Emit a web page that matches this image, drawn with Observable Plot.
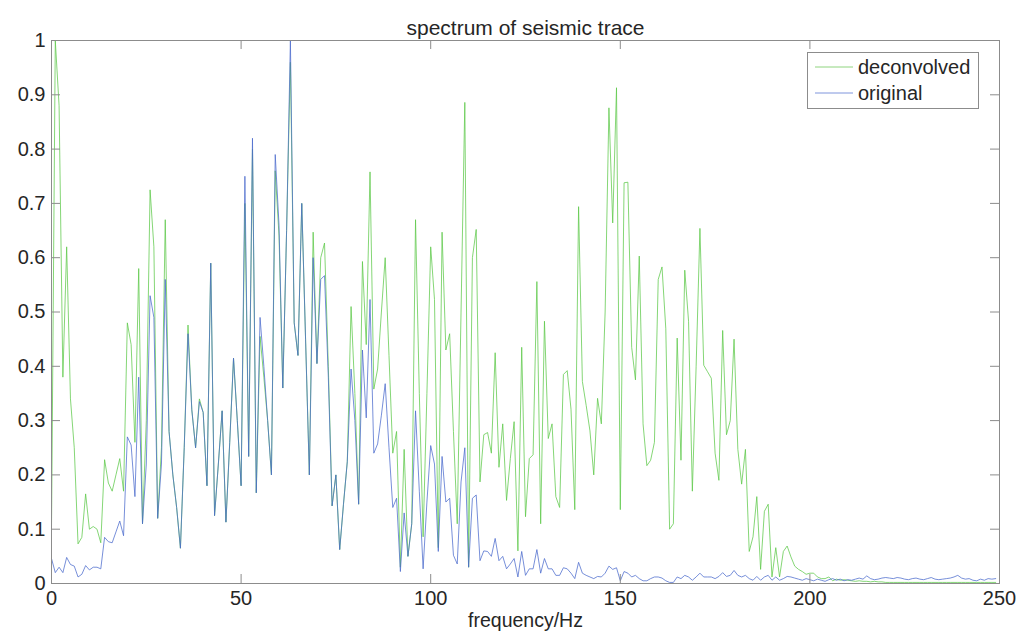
<!DOCTYPE html>
<html><head><meta charset="utf-8">
<script src="https://cdn.jsdelivr.net/npm/d3@7"></script>
<script src="https://cdn.jsdelivr.net/npm/@observablehq/plot@0.6"></script>
<style>
body{margin:0;background:#fff;}
#wrap{position:relative;width:1024px;height:640px;font-family:"Liberation Sans",Arial,sans-serif;}
#legend{position:absolute;left:807px;top:52px;width:172px;height:57px;box-sizing:border-box;border:1px solid #8c8c8c;background:#fff;}
.row{position:absolute;left:0;height:24px;width:100%;}
.sw{position:absolute;left:7px;top:11px;}
.lbl{position:absolute;left:50px;top:1px;font-size:20px;color:#262626;line-height:22px;white-space:nowrap;}
</style></head>
<body><div id="wrap"><div id="legend"></div></div>
<script>
const title = "spectrum of seismic trace";
const xLabel = "frequency/Hz";
const seriesNames = ["deconvolved", "original"];
const xTicks = [0, 50, 100, 150, 200, 250];
const yTicks = [0, 0.1, 0.2, 0.3, 0.4, 0.5, 0.6, 0.7, 0.8, 0.9, 1];

// amplitude spectra, one value per 1 Hz bin starting at 0 Hz
const deconvolved = [
  0.10,1.00,0.88,0.38,0.62,0.34,0.25,0.073,0.085,0.165,
  0.10,0.105,0.10,0.075,0.228,0.185,0.17,0.20,0.23,0.17,
  0.48,0.44,0.26,0.58,0.11,0.30,0.725,0.62,0.12,0.25,
  0.67,0.28,0.20,0.14,0.065,0.25,0.476,0.32,0.25,0.34,
  0.315,0.18,0.59,0.125,0.22,0.318,0.113,0.26,0.415,0.30,
  0.18,0.70,0.234,0.80,0.167,0.455,0.38,0.30,0.20,0.76,
  0.64,0.36,0.65,0.96,0.48,0.42,0.70,0.45,0.20,0.647,
  0.405,0.60,0.627,0.40,0.143,0.20,0.0625,0.146,0.224,0.51,
  0.35,0.146,0.593,0.44,0.758,0.358,0.395,0.50,0.60,0.42,
  0.24,0.28,0.03,0.247,0.05,0.11,0.67,0.35,0.086,0.35,
  0.62,0.523,0.066,0.647,0.43,0.46,0.28,0.11,0.50,0.886,
  0.03,0.60,0.652,0.187,0.274,0.278,0.24,0.425,0.214,0.294,
  0.153,0.23,0.298,0.06,0.435,0.123,0.23,0.237,0.556,0.11,
  0.483,0.267,0.294,0.16,0.14,0.385,0.392,0.321,0.136,0.694,
  0.372,0.328,0.281,0.20,0.341,0.294,0.50,0.876,0.664,0.913,
  0.136,0.738,0.739,0.435,0.375,0.603,0.294,0.217,0.227,0.26,
  0.56,0.583,0.469,0.10,0.11,0.452,0.227,0.577,0.483,0.17,
  0.40,0.654,0.402,0.39,0.378,0.24,0.19,0.466,0.274,0.30,
  0.45,0.247,0.183,0.247,0.059,0.086,0.16,0.026,0.133,0.146,
  0.012,0.066,0.012,0.059,0.069,0.049,0.032,0.026,0.022,0.017,
  0.019,0.019,0.012,0.009,0.009,0.012,0.005,0.008,0.006,0.007,
  0.006,0.005,0.004,0.005,0.004,0.004,0.003,0.004,0.003,0.003,
  0.002,0.002,0.002,0.002,0.002,0.002,0.002,0.002,0.002,0.002,
  0.002,0.002,0.002,0.002,0.002,0.002,0.002,0.002,0.002,0.002,
  0.002,0.002,0.002,0.002,0.002,0.002,0.002,0.002,0.002,0.002
];
const original = [
  0.046,0.02,0.03,0.02,0.048,0.035,0.032,0.012,0.017,0.033,
  0.025,0.03,0.03,0.027,0.085,0.077,0.075,0.095,0.115,0.088,
  0.27,0.255,0.16,0.38,0.11,0.22,0.53,0.49,0.12,0.22,
  0.56,0.28,0.20,0.14,0.065,0.25,0.46,0.32,0.25,0.335,
  0.315,0.18,0.59,0.125,0.22,0.318,0.113,0.26,0.415,0.30,
  0.18,0.75,0.234,0.82,0.167,0.49,0.40,0.30,0.20,0.79,
  0.66,0.36,0.65,1.00,0.48,0.42,0.70,0.45,0.20,0.60,
  0.405,0.56,0.567,0.38,0.143,0.20,0.0625,0.146,0.224,0.395,
  0.30,0.146,0.43,0.305,0.523,0.24,0.257,0.31,0.368,0.25,
  0.14,0.157,0.022,0.13,0.05,0.11,0.318,0.17,0.027,0.15,
  0.254,0.22,0.059,0.234,0.15,0.157,0.052,0.036,0.187,0.25,
  0.03,0.157,0.163,0.042,0.06,0.059,0.05,0.083,0.042,0.05,
  0.027,0.036,0.046,0.012,0.059,0.015,0.027,0.027,0.0625,0.019,
  0.046,0.027,0.027,0.015,0.015,0.029,0.027,0.019,0.009,0.039,
  0.019,0.015,0.012,0.009,0.013,0.012,0.019,0.032,0.026,0.029,
  0.005,0.022,0.019,0.012,0.015,0.009,0.005,0.005,0.009,0.012,
  0.012,0.01,0.005,0.002,0.002,0.012,0.009,0.015,0.012,0.006,
  0.012,0.019,0.012,0.012,0.012,0.009,0.013,0.02,0.013,0.015,
  0.024,0.015,0.012,0.015,0.009,0.006,0.013,0.006,0.012,0.015,
  0.006,0.012,0.006,0.009,0.013,0.012,0.01,0.008,0.006,0.009,
  0.007,0.005,0.008,0.006,0.004,0.007,0.009,0.006,0.008,0.005,
  0.007,0.006,0.008,0.01,0.008,0.014,0.009,0.007,0.008,0.01,
  0.011,0.01,0.009,0.011,0.01,0.008,0.007,0.009,0.01,0.008,
  0.007,0.009,0.011,0.008,0.007,0.008,0.009,0.01,0.012,0.015,
  0.01,0.008,0.009,0.006,0.005,0.008,0.006,0.009,0.008,0.009
];
const freqStep = 1; // Hz per bin
const freq = deconvolved.map((_, i) => i * freqStep);

const GREEN = "#5cc848";
const BLUE = "#4a6acc";
const SWATCH = ["#8fd47f", "#7f95dc"];
const AXIS = "#8c8c8c";
const TEXT = "#262626";
const FONT = "'Liberation Sans', Arial, Helvetica, sans-serif";

const W = 1024, H = 640, mL = 51, mR = 25, mT = 40, mB = 57;
const innerW = W - mL - mR, innerH = H - mT - mB, tickLen = 9;

const dData = deconvolved.map((v, i) => ({f: freq[i], v}));
const oData = original.map((v, i) => ({f: freq[i], v}));

const chart = Plot.plot({
  width: W, height: H,
  marginLeft: mL, marginRight: mR, marginTop: mT, marginBottom: mB,
  style: {fontFamily: FONT, fontSize: "20px", color: TEXT, background: "#fff", overflow: "visible"},
  x: {domain: [0, 250], label: null},
  y: {domain: [0, 1], label: null},
  marks: [
    Plot.line(dData, {x: "f", y: "v", stroke: GREEN, strokeWidth: 0.75}),
    Plot.line(oData, {x: "f", y: "v", stroke: BLUE, strokeWidth: 0.75}),
    Plot.ruleX(xTicks, {x: d => d, insetTop: innerH - tickLen, stroke: AXIS}),
    Plot.ruleX(xTicks, {x: d => d, insetBottom: innerH - tickLen, stroke: AXIS}),
    Plot.ruleY(yTicks, {y: d => d, insetRight: innerW - tickLen, stroke: AXIS}),
    Plot.ruleY(yTicks, {y: d => d, insetLeft: innerW - tickLen, stroke: AXIS}),
    Plot.frame({stroke: AXIS}),
    Plot.axisX(xTicks, {tickSize: 0, tickPadding: 7, fontSize: 20, label: null, tickFormat: d => String(d)}),
    Plot.axisY(yTicks, {tickSize: 0, tickPadding: 6, fontSize: 20, label: null, tickFormat: d => String(d)}),
    Plot.text([title], {frameAnchor: "top", dy: -20, fontSize: 21, fill: TEXT}),
    Plot.text([xLabel], {frameAnchor: "bottom", dy: 43, fontSize: 19.5, fill: TEXT})
  ]
});
const wrap = document.getElementById("wrap");
wrap.insertBefore(chart, wrap.firstChild);

const legend = document.getElementById("legend");
SWATCH.forEach((c, i) => {
  const row = document.createElement("div");
  row.className = "row";
  row.style.top = (2 + i * 26) + "px";
  row.innerHTML = `<svg class="sw" width="38" height="2"><line x1="0" x2="38" y1="1" y2="1" stroke="${c}" stroke-width="1"/></svg><div class="lbl">${seriesNames[i]}</div>`;
  legend.appendChild(row);
});
</script></body></html>
